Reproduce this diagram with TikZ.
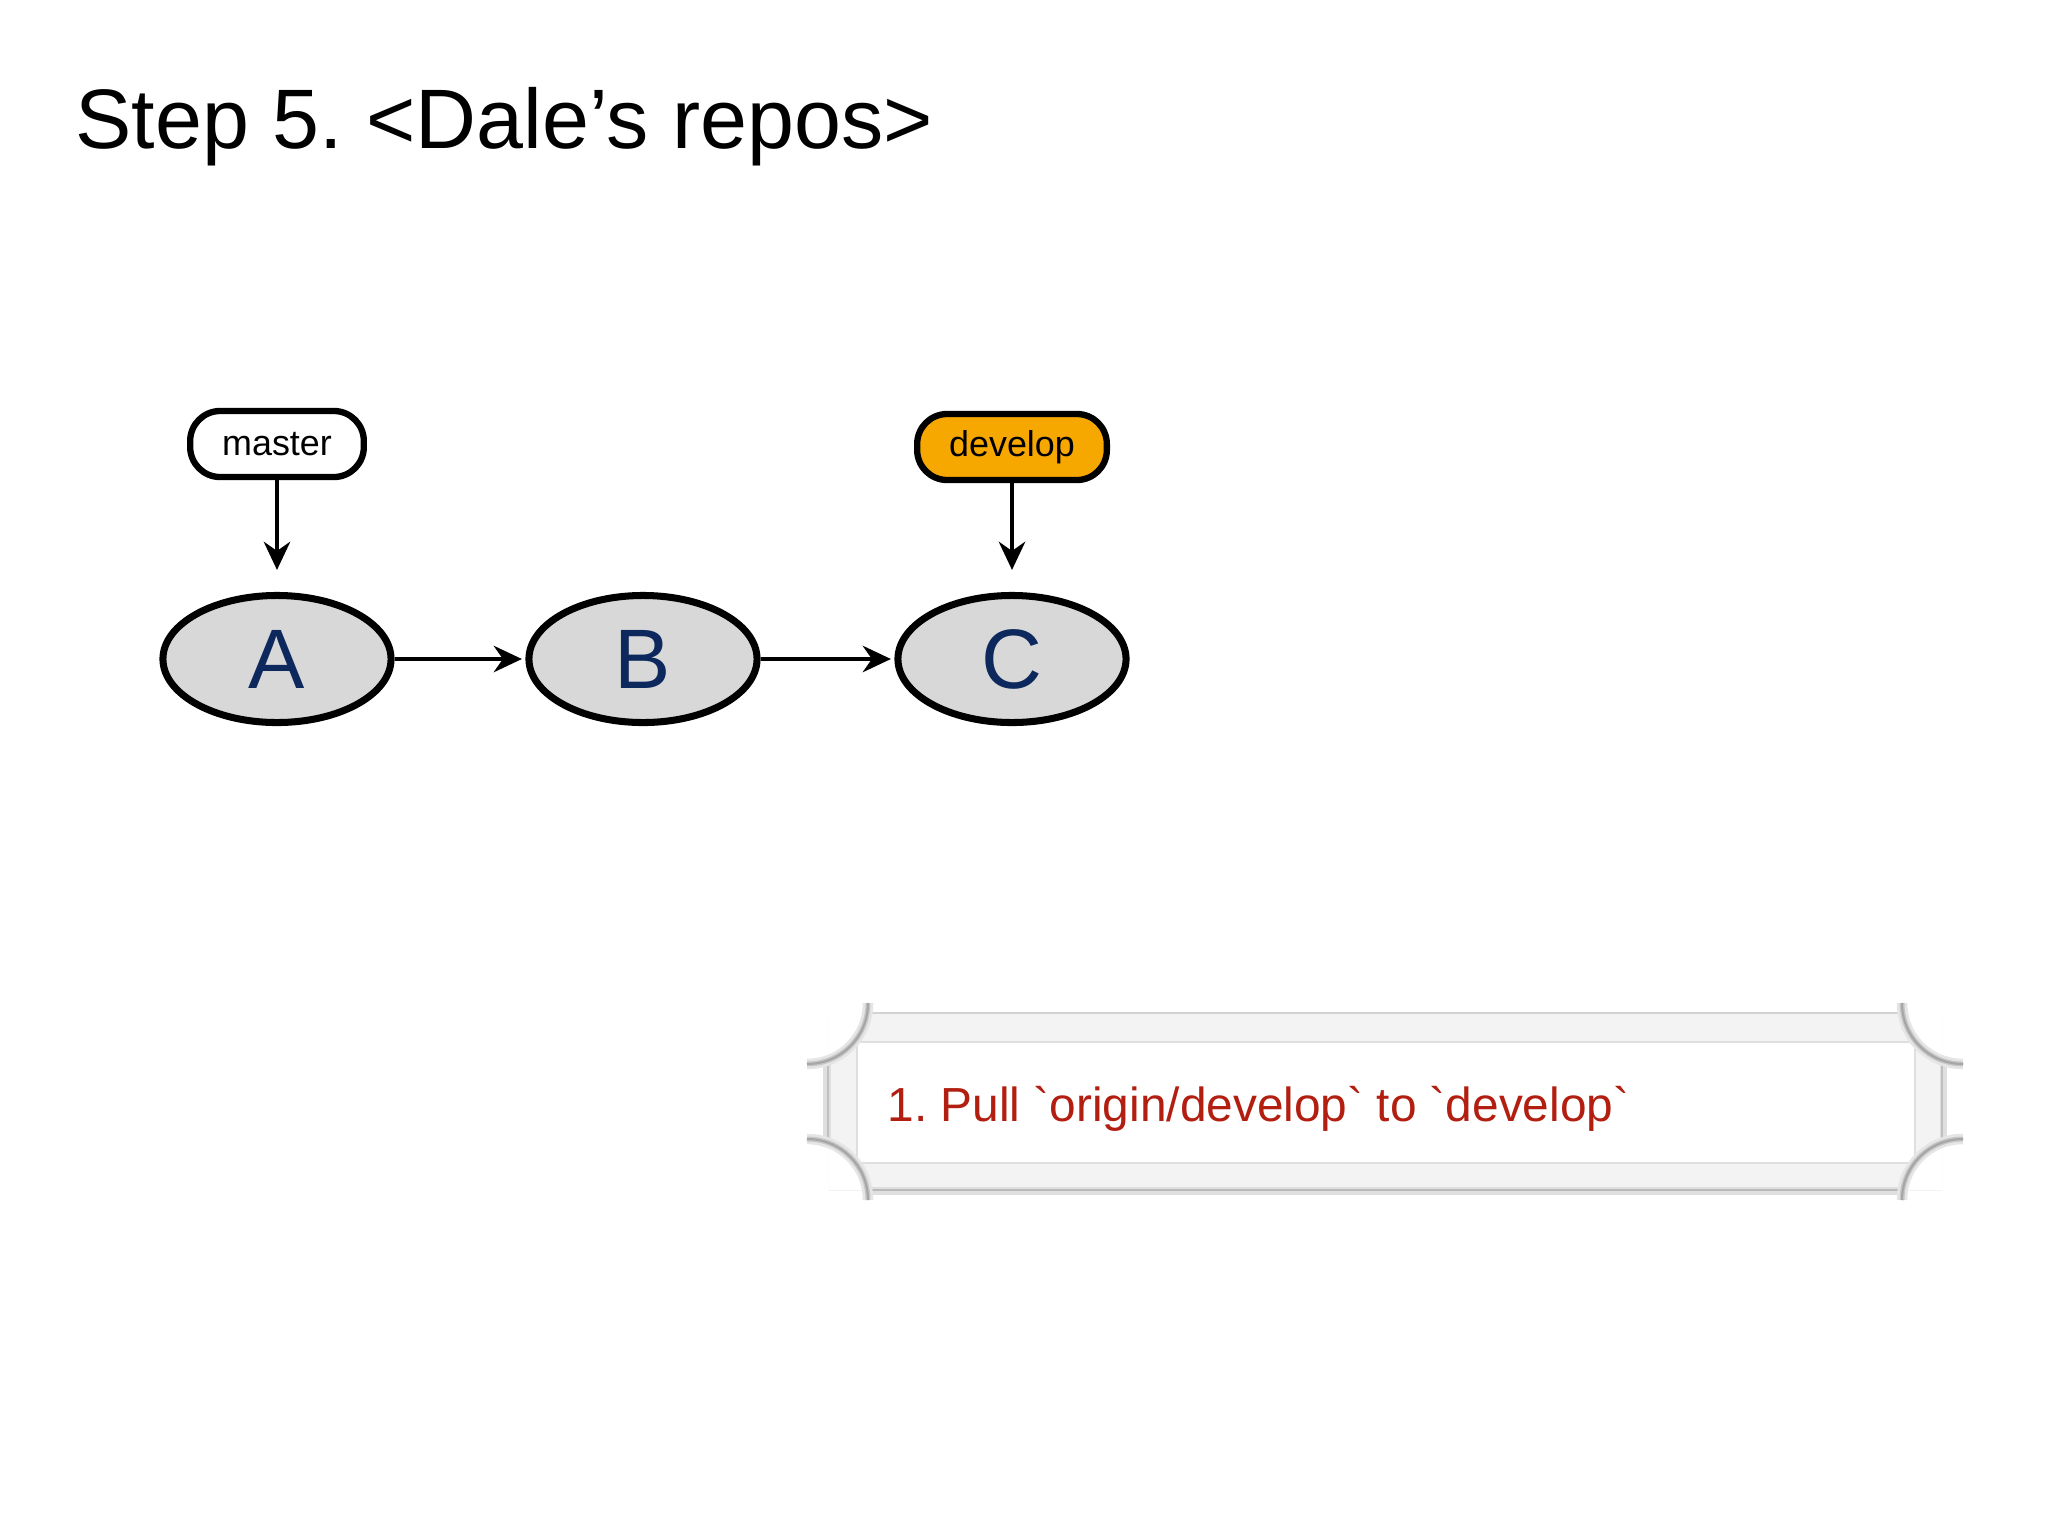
\documentclass[tikz,border=0pt]{standalone}
\usepackage{fontspec}
\setmainfont{Liberation Sans}
\frenchspacing
\usetikzlibrary{shapes.geometric, arrows.meta}
\definecolor{commitfill}{RGB}{216,216,216}
\definecolor{commitink}{RGB}{12,40,92}
\definecolor{headfill}{RGB}{247,168,0}
\definecolor{noteink}{RGB}{178,30,16}
\definecolor{tabfill}{RGB}{243,243,243}

\begin{document}
\begin{tikzpicture}[x=0.01cm, y=-0.01cm, >={Stealth[length=8pt,width=7.5pt]},
  commit/.style={ellipse, draw, line width=2pt, fill=commitfill, minimum width=2.28cm,
    minimum height=1.27cm, inner sep=0pt, text=commitink, font=\fontsize{24}{24}\selectfont},
  branch/.style={rounded corners=0.3cm, draw, line width=1.8pt, minimum height=0.66cm,
    inner xsep=0.32cm, font=\fontsize{10.2}{12}\selectfont},
  ptr/.style={->, line width=1.2pt}]
  \useasboundingbox (0,0) rectangle (2048,1536);
  \node[anchor=base west, inner sep=0pt, font=\fontsize{24}{29}\selectfont] (title) at (75,148) {Step 5. <Dale's repos>};

  % commits
  \node[commit] (A) at (277,659) {A};
  \node[commit] (B) at (643,659) {B};
  \node[commit] (C) at (1012,659) {C};
  \draw[ptr, shorten >=1pt] (A) -- (B);
  \draw[ptr, shorten >=1pt] (B) -- (C);

  % branches
  \node[branch, fill=white] (master) at (277,444) {master};
  \node[branch, fill=headfill] (develop) at (1012,447) {develop};
  \draw[ptr, shorten >=0.22cm] (master) -- (A);
  \draw[ptr, shorten >=0.22cm] (develop) -- (C);

  % note card
  \begin{scope}
    \clip (828,1013) rectangle (1942,1190);
    \fill[tabfill, even odd rule] (828,1013) rectangle (1942,1190)
      (807,1003) circle[radius=0.61cm] (1963,1003) circle[radius=0.61cm]
      (807,1200) circle[radius=0.61cm] (1963,1200) circle[radius=0.61cm];
  \end{scope}
  \fill[white] (857,1042) rectangle (1915,1163);
  \draw[gray!35, line width=0.6pt] (868,1013) -- (1902,1013);
  \draw[gray!25, line width=0.5pt] (857,1042) -- (1915,1042);
  \draw[gray!25, line width=0.5pt] (857,1163) -- (1915,1163);
  \draw[gray!25, line width=0.5pt] (857,1042) -- (857,1163);
  \draw[gray!25, line width=0.5pt] (1915,1042) -- (1915,1163);
  \draw[gray!25, line width=2.5pt] (868,1191) -- (1902,1191);
  \draw[gray!55, line width=0.6pt] (868,1190) -- (1902,1190);
  \draw[gray!25, line width=2pt] (827,1062) -- (827,1143);
  \draw[gray!25, line width=2pt] (1943,1062) -- (1943,1143);
  \draw[gray!50, line width=0.5pt] (828,1062) -- (828,1143);
  \draw[gray!50, line width=0.5pt] (1942,1062) -- (1942,1143);
  \foreach \w/\c in {3pt/gray!20, 1.4pt/gray!45, 0.6pt/gray!70} {
    \draw[\c, line width=\w] (868,1003) .. controls (868,1037) and (841,1064) .. (807,1064);
    \draw[\c, line width=\w] (1902,1003) .. controls (1902,1037) and (1929,1064) .. (1963,1064);
    \draw[\c, line width=\w] (807,1139) .. controls (841,1139) and (868,1166) .. (868,1200);
    \draw[\c, line width=\w] (1963,1139) .. controls (1929,1139) and (1902,1166) .. (1902,1200);
  }
  \node[anchor=base west, inner sep=0pt, text=noteink, font=\fontsize{13.6}{16}\selectfont] (note) at (887,1121)
    {1. Pull \textasciigrave origin/develop\textasciigrave{} to \textasciigrave develop\textasciigrave};
\end{tikzpicture}
\end{document}
